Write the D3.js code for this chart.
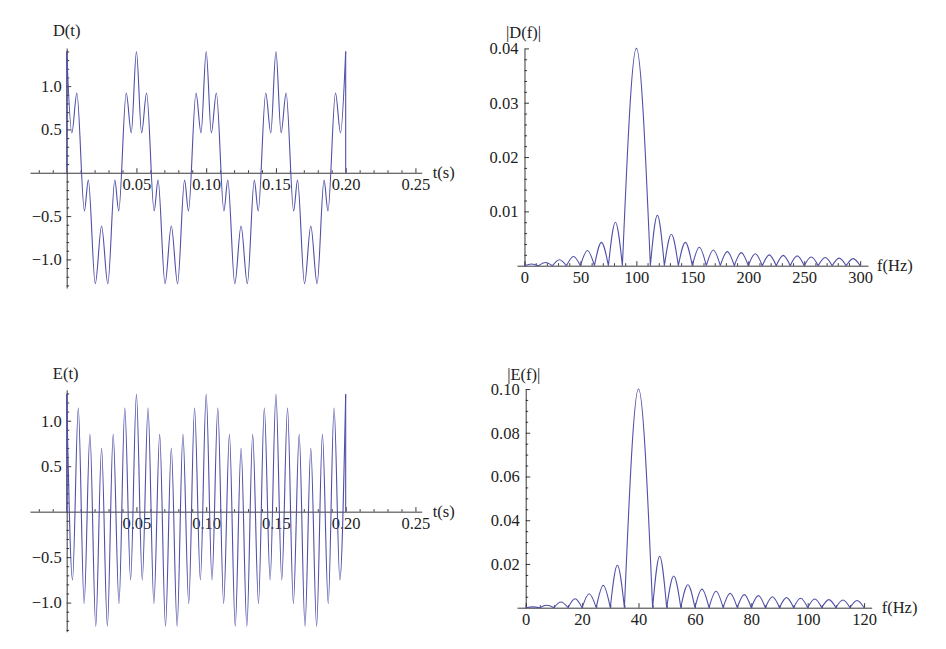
<!DOCTYPE html>
<html><head><meta charset="utf-8">
<script src="https://cdn.jsdelivr.net/npm/d3@7"></script>
<style>body{margin:0;background:#fff}svg{display:block}svg text{font-family:"Liberation Serif","Times New Roman",serif}</style>
</head><body>
<svg id="c" width="946" height="649"></svg>
<script>
// ---- D(t): extrema ----
const dtTime = [0, 0.0037, 0.0073, 0.0127, 0.0155, 0.0205, 0.025, 0.0295, 0.0345, 0.0373, 0.0427, 0.0463,
  0.05, 0.0537, 0.0573, 0.0627, 0.0655, 0.0705, 0.075, 0.0795, 0.0845, 0.0873, 0.0927, 0.0963,
  0.10, 0.1037, 0.1073, 0.1127, 0.1155, 0.1205, 0.125, 0.1295, 0.1345, 0.1373, 0.1427, 0.1463,
  0.15, 0.1537, 0.1573, 0.1627, 0.1655, 0.1705, 0.175, 0.1795, 0.1845, 0.1873, 0.1927, 0.1963,
  0.20];
const dtValue = [1.40, 0.46, 0.92, -0.44, -0.085, -1.28, -0.615, -1.28, -0.085, -0.44, 0.92, 0.46,
  1.40, 0.46, 0.92, -0.44, -0.085, -1.28, -0.615, -1.28, -0.085, -0.44, 0.92, 0.46,
  1.40, 0.46, 0.92, -0.44, -0.085, -1.28, -0.615, -1.28, -0.085, -0.44, 0.92, 0.46,
  1.40, 0.46, 0.92, -0.44, -0.085, -1.28, -0.615, -1.28, -0.085, -0.44, 0.92, 0.46,
  1.40];

// ---- E(t): extrema ----
const etTime = [0, 0.00417, 0.00833, 0.0125, 0.01667, 0.02083, 0.025, 0.02917, 0.03333, 0.0375, 0.04167, 0.04583,
  0.05, 0.05417, 0.05833, 0.0625, 0.06667, 0.07083, 0.075, 0.07917, 0.08333, 0.0875, 0.09167, 0.09583,
  0.10, 0.10417, 0.10833, 0.1125, 0.11667, 0.12083, 0.125, 0.12917, 0.13333, 0.1375, 0.14167, 0.14583,
  0.15, 0.15417, 0.15833, 0.1625, 0.16667, 0.17083, 0.175, 0.17917, 0.18333, 0.1875, 0.19167, 0.19583,
  0.20];
const etValue = [1.29, -0.75, 1.14, -1.01, 0.85, -1.26, 0.70, -1.26, 0.85, -1.01, 1.14, -0.75,
  1.29, -0.75, 1.14, -1.01, 0.85, -1.26, 0.70, -1.26, 0.85, -1.01, 1.14, -0.75,
  1.29, -0.75, 1.14, -1.01, 0.85, -1.26, 0.70, -1.26, 0.85, -1.01, 1.14, -0.75,
  1.29, -0.75, 1.14, -1.01, 0.85, -1.26, 0.70, -1.26, 0.85, -1.01, 1.14, -0.75,
  1.29];

// ---- |D(f)|: lobe zeros and peaks ----
const dfFreq = [0, 6.25, 12.5, 18.75, 25, 31.25, 37.5, 43.75, 50, 56.25, 62.5, 68.75, 75, 81.25, 87.5,
  100, 112.5, 118.75, 125, 131.25, 137.5, 143.75, 150, 156.25, 162.5, 168.75, 175, 181.25, 187.5,
  193.75, 200, 206.25, 212.5, 218.75, 225, 231.25, 237.5, 243.75, 250, 256.25, 262.5, 268.75, 275,
  281.25, 287.5, 293.75, 300];
const dfMag = [0, 0.0003, 0, 0.0006, 0, 0.0011, 0, 0.0017, 0, 0.0028, 0, 0.0043, 0, 0.0080, 0,
  0.040, 0, 0.0093, 0, 0.0058, 0, 0.0043, 0, 0.0034, 0, 0.0029, 0, 0.0026, 0,
  0.0024, 0, 0.0022, 0, 0.0020, 0, 0.0019, 0, 0.0018, 0, 0.0016, 0, 0.0015, 0,
  0.0014, 0, 0.0013, 0];

// ---- |E(f)|: lobe zeros and peaks ----
const efFreq = [0, 2.5, 5, 7.5, 10, 12.5, 15, 17.5, 20, 22.5, 25, 27.5, 30, 32.5, 35,
  40, 45, 47.5, 50, 52.5, 55, 57.5, 60, 62.5, 65, 67.5, 70, 72.5, 75, 77.5, 80, 82.5, 85,
  87.5, 90, 92.5, 95, 97.5, 100, 102.5, 105, 107.5, 110, 112.5, 115, 117.5, 120];
const efMag = [0, 0.0004, 0, 0.0011, 0, 0.0026, 0, 0.0041, 0, 0.0064, 0, 0.0102, 0, 0.0194, 0,
  0.100, 0, 0.0235, 0, 0.0145, 0, 0.0105, 0, 0.0085, 0, 0.0075, 0, 0.0066, 0, 0.0060, 0, 0.0055, 0,
  0.0050, 0, 0.0046, 0, 0.0043, 0, 0.0040, 0, 0.0037, 0, 0.0035, 0, 0.0033, 0];

// ---- ticks ----
const timeTicks = [0.05, 0.10, 0.15, 0.20, 0.25];
const timeTickLabels = ["0.05", "0.10", "0.15", "0.20", "0.25"];
const ampTicks = [-1.0, -0.5, 0.5, 1.0];
const ampTickLabels = ["\u22121.0", "\u22120.5", "0.5", "1.0"];
const dfXTicks = [0, 50, 100, 150, 200, 250, 300];
const dfXTickLabels = ["0", "50", "100", "150", "200", "250", "300"];
const dfYTicks = [0.01, 0.02, 0.03, 0.04];
const dfYTickLabels = ["0.01", "0.02", "0.03", "0.04"];
const efXTicks = [0, 20, 40, 60, 80, 100, 120];
const efXTickLabels = ["0", "20", "40", "60", "80", "100", "120"];
const efYTicks = [0.02, 0.04, 0.06, 0.08, 0.10];
const efYTickLabels = ["0.02", "0.04", "0.06", "0.08", "0.10"];

const svg = d3.select("#c");
svg.append("rect").attr("width", 946).attr("height", 649).attr("fill", "#fff");
const CURVE = "#5050a8", AXIS = "#222", FONT = "Liberation Serif, Times New Roman, serif";

function minorList(lo, hi, step, majors) {
  const out = [];
  for (let i = Math.ceil(lo / step - 1e-9); i * step <= hi + 1e-9; i++) {
    const v = +(i * step).toFixed(6);
    if (Math.abs(v) < 1e-9) continue;
    if (majors.some(m => Math.abs(m - v) < 1e-9)) continue;
    out.push(v);
  }
  return out;
}

function panel(c) {
  const g = svg.append("g");
  const x = d3.scaleLinear().domain(c.xDomain).range(c.xRange);
  const y = d3.scaleLinear().domain(c.yDomain).range(c.yRange);
  const x0 = x(0), y0 = y(0);

  const gx = g.append("g").attr("transform", `translate(0,${y0})`)
    .call(d3.axisBottom(x).tickValues(c.xTicks).tickFormat((d, i) => c.xLabels[i])
      .tickSizeInner(-4.5).tickSizeOuter(0).tickPadding(6));
  const gxm = g.append("g").attr("transform", `translate(0,${y0})`)
    .call(d3.axisBottom(x).tickValues(c.xMinor).tickFormat("").tickSizeInner(-2.5).tickSizeOuter(0));
  gxm.select(".domain").remove();
  const gy = g.append("g").attr("transform", `translate(${x0},0)`)
    .call(d3.axisLeft(y).tickValues(c.yTicks).tickFormat((d, i) => c.yLabels[i])
      .tickSizeInner(-4.5).tickSizeOuter(0).tickPadding(c.yPad));
  const gym = g.append("g").attr("transform", `translate(${x0},0)`)
    .call(d3.axisLeft(y).tickValues(c.yMinor).tickFormat("").tickSizeInner(-2.5).tickSizeOuter(0));
  gym.select(".domain").remove();
  if (c.skipXZeroTick) gx.selectAll(".tick").filter(d => d === 0).select("line").remove();

  g.selectAll("g").attr("font-family", FONT);
  g.selectAll(".domain, .tick line").attr("stroke", AXIS).attr("stroke-width", 0.9);
  g.selectAll(".tick text").attr("font-family", FONT).attr("font-size", 16.5).attr("fill", AXIS);

  if (c.kind === "time") {
    const pts = c.xs.map((t, i) => [t, c.ys[i]]);
    const line = d3.line().x(d => x(d[0])).y(d => y(d[1])).curve(d3.curveMonotoneX);
    g.append("path").attr("d", line(pts)).attr("fill", "none").attr("stroke", CURVE).attr("stroke-width", 1.1);
    const lin = d3.line().x(d => x(d[0])).y(d => y(d[1]));
    const first = pts[0], last = pts[pts.length - 1];
    g.append("path").attr("d", lin([[first[0], 0], first])).attr("fill", "none").attr("stroke", CURVE).attr("stroke-width", 1.1);
    g.append("path").attr("d", lin([last, [last[0], 0]])).attr("fill", "none").attr("stroke", CURVE).attr("stroke-width", 1.1);
  } else {
    const line = d3.line().x(d => x(d[0])).y(d => y(d[1])).curve(d3.curveMonotoneX);
    let p = "";
    for (let i = 0; i + 2 < c.xs.length; i += 2) {
      const seg = [0, 1, 2].map(k => [c.xs[i + k], c.ys[i + k]]);
      p += line(seg);
    }
    g.append("path").attr("d", p).attr("fill", "none").attr("stroke", CURVE).attr("stroke-width", 1.1)
      .attr("stroke-linejoin", "round");
  }

  g.append("text").attr("x", x0 + c.yLabelDx).attr("y", c.yLabelY).attr("text-anchor", "middle")
    .attr("font-family", FONT).attr("font-size", 16.5).attr("fill", AXIS).text(c.yTitle);
  g.append("text").attr("x", c.xRange[1] + c.xLabelGap).attr("y", y0 + 5)
    .attr("font-family", FONT).attr("font-size", 16.5).attr("fill", AXIS).text(c.xTitle);
}

const tMinor = minorList(-0.02, 0.25, 0.01, timeTicks);

panel({ kind: "time", xs: dtTime, ys: dtValue,
  xDomain: [-0.0263, 0.2545], xRange: [30, 421.7], yDomain: [-1.33, 1.44], yRange: [288, 48],
  xTicks: timeTicks, xLabels: timeTickLabels, xMinor: tMinor,
  yTicks: ampTicks, yLabels: ampTickLabels, yMinor: minorList(-1.3, 1.4, 0.1, ampTicks), yPad: 5,
  yTitle: "D(t)", yLabelDx: 0, yLabelY: 36, xTitle: "t(s)", xLabelGap: 11, skipXZeroTick: true });

panel({ kind: "time", xs: etTime, ys: etValue,
  xDomain: [-0.0263, 0.2545], xRange: [30, 421.7], yDomain: [-1.32, 1.34], yRange: [631.7, 389.8],
  xTicks: timeTicks, xLabels: timeTickLabels, xMinor: tMinor,
  yTicks: ampTicks, yLabels: ampTickLabels, yMinor: minorList(-1.3, 1.3, 0.1, ampTicks), yPad: 5,
  yTitle: "E(t)", yLabelDx: -1, yLabelY: 379, xTitle: "t(s)", xLabelGap: 11, skipXZeroTick: true });

panel({ kind: "freq", xs: dfFreq, ys: dfMag,
  xDomain: [-6.7, 307], xRange: [517, 868], yDomain: [0, 0.04], yRange: [265.7, 48.4],
  xTicks: dfXTicks, xLabels: dfXTickLabels, xMinor: minorList(10, 300, 10, dfXTicks),
  yTicks: dfYTicks, yLabels: dfYTickLabels, yMinor: minorList(0.002, 0.04, 0.002, dfYTicks), yPad: 6,
  yTitle: "|D(f)|", yLabelDx: -1, yLabelY: 38, xTitle: "f(Hz)", xLabelGap: 9 });

panel({ kind: "freq", xs: efFreq, ys: efMag,
  xDomain: [-3.09, 122.7], xRange: [517, 871.7], yDomain: [0, 0.10], yRange: [607.7, 389],
  xTicks: efXTicks, xLabels: efXTickLabels, xMinor: minorList(5, 120, 5, efXTicks),
  yTicks: efYTicks, yLabels: efYTickLabels, yMinor: minorList(0.005, 0.1, 0.005, efYTicks), yPad: 6,
  yTitle: "|E(f)|", yLabelDx: -2, yLabelY: 380, xTitle: "f(Hz)", xLabelGap: 10 });
</script>
</body></html>
